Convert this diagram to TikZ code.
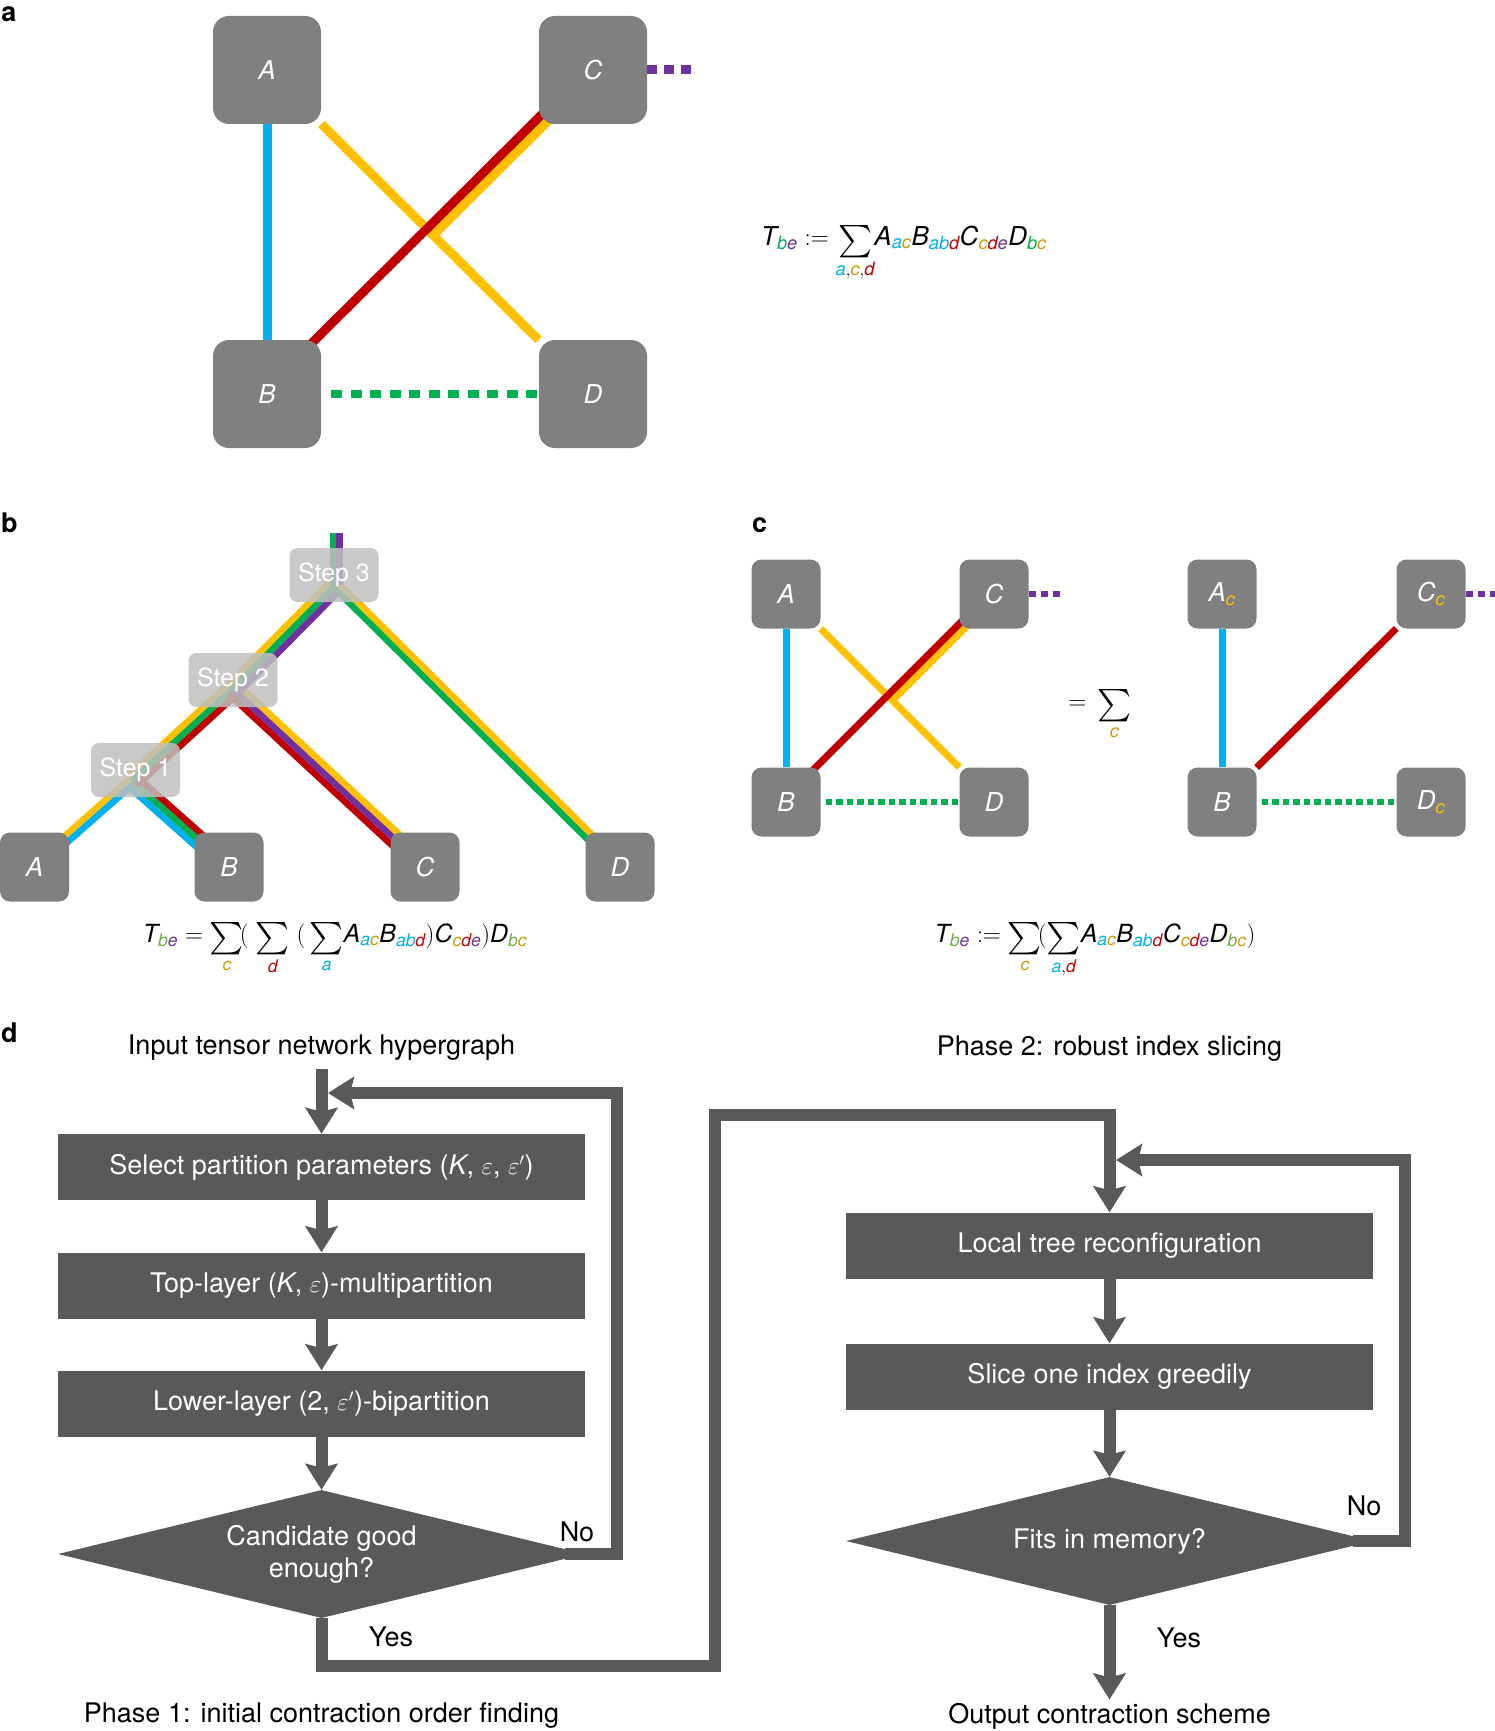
\documentclass[tikz,border=0pt]{standalone}
\usepackage{amsmath}
\usepackage{fontspec}
\setmainfont{TeX Gyre Heros}
\usetikzlibrary{shapes.geometric,arrows.meta,calc}

\definecolor{nodegray}{HTML}{808080}
\definecolor{flowgray}{HTML}{595959}
\definecolor{stepgray}{HTML}{BFBFBF}
\definecolor{idxa}{HTML}{00B0F0}
\definecolor{idxb}{HTML}{00B050}
\definecolor{idxc}{HTML}{FFC000}
\definecolor{idxd}{HTML}{C00000}
\definecolor{idxe}{HTML}{7030A0}
\definecolor{txtb}{HTML}{70AD47}
\definecolor{txtc}{HTML}{CC9A06}

\newcommand{\ixa}{\textcolor{idxa}{\mathit{a}}}
\newcommand{\ixb}{\textcolor{idxb}{\mathit{b}}}
\newcommand{\ixg}{\textcolor{txtb}{\mathit{b}}}
\newcommand{\ixba}{\textcolor{idxa}{\mathit{b}}}
\newcommand{\ixc}{\textcolor{txtc}{\mathit{c}}}
\newcommand{\ixd}{\textcolor{idxd}{\mathit{d}}}
\newcommand{\ixe}{\textcolor{idxe}{\mathit{e}}}
\newcommand{\bsum}{\mathop{\raisebox{-0.2em}{\scalebox{1.3}{$\textstyle\sum$}}}\limits}
\newcommand{\bundle}[3]{\foreach \col/\off in {#3}{\draw[stripe,draw=\col] ($(#1)!\off!-90:(#2)$) -- ($(#2)!\off!90:(#1)$);}}

\pgfdeclarelayer{back}
\pgfsetlayers{back,main}

\tikzset{every picture/.style={line width=0.75pt},
  tensor/.style={fill=nodegray, text=white, rounded corners=16pt, minimum size=108pt, inner sep=0pt, font=\fontsize{26}{30}\selectfont\itshape},
  tensorsm/.style={tensor, rounded corners=10pt, minimum size=69pt},
  stepbox/.style={fill=stepgray, fill opacity=0.85, text opacity=1, text=white, rounded corners=8pt, minimum width=89pt, minimum height=54pt, inner sep=0pt, font=\fontsize{25}{30}\selectfont},
  flowbox/.style={fill=flowgray, text=white, minimum width=527pt, minimum height=66pt, inner sep=0pt, font=\fontsize{27}{32}\selectfont},
  flowdec/.style={diamond, fill=flowgray, text=white, minimum width=527pt, minimum height=128pt, inner sep=0pt, aspect=4, align=center, font=\fontsize{27}{32}\selectfont},
  flowtext/.style={font=\fontsize{27}{32}\selectfont},
  flowline/.style={draw=flowgray, line width=12pt},
  flowarrow/.style={flowline, -{Stealth[length=26pt,width=32pt,inset=4pt]}},
  panel/.style={anchor=base west, inner sep=0pt, font=\fontsize{27}{30}\selectfont\bfseries},
  formula/.style={anchor=base, inner sep=0pt, font=\fontsize{26}{30}\selectfont},
  bond/.style={line width=9pt},
  bondsm/.style={line width=7pt},
  stripe/.style={line width=6.5pt}
}

\begin{document}
\begin{tikzpicture}[x=1pt,y=1pt,yscale=-1,xscale=1]
	\useasboundingbox (0,0) rectangle (1495,1731);

	%%% Panel a
	% Text Node
	\node[panel] (la) at (1,22) {a};
	%Shape: Tensors
	\node[tensor] (aA) at (267,70) {A};
	\node[tensor] (aC) at (593,70) {C};
	\node[tensor] (aB) at (267,394) {B};
	\node[tensor] (aD) at (593,394) {D};
	\coordinate (ae) at (693,70);
	\coordinate (ac2) at ($(aC)!4.5pt!-90:(aB)$);
	\coordinate (ab2) at ($(aB)!4.5pt!90:(aC)$);
	\coordinate (ax) at (intersection of aA--aD and ac2--ab2);
	\begin{pgfonlayer}{back}
	%Straight Lines
	\draw[bond,idxa] (aA) -- (aB);
	\draw[bond,idxc] (aA) -- (aD);
	\draw[bond,idxc] (ac2) -- (ax);
	\draw[bond,idxd] ($(aC)!-4.5pt!-90:(aB)$) -- ($(aB)!-4.5pt!90:(aC)$);
	%Dotted Lines
	\draw[bond,idxe,dash pattern=on 10pt off 7pt] (aC.east) -- (ae);
	\draw[line width=8pt,idxb,dash pattern=on 11pt off 8.5pt] ([xshift=10pt]aB.east) -- (aD.west);
	\end{pgfonlayer}
	% Text Node
	\node[formula] (fa) at (904,245) {$\mathit{T}_{\ixb\ixe}\mathrel{\mathrm{:=}}\bsum_{\ixa,\ixc,\ixd}\!\mathit{A}_{\ixa\ixc}\mathit{B}_{\ixa\ixba\ixd}\mathit{C}_{\ixc\ixd\ixe}\mathit{D}_{\ixb\ixc}$};

	%%% Panel b
	% Text Node
	\node[panel] (lb) at (1,532) {b};
	%Shape: Tensors
	\node[tensorsm] (bA) at (34.5,867) {A};
	\node[tensorsm] (bB) at (229,867) {B};
	\node[tensorsm] (bC) at (425,867) {C};
	\node[tensorsm] (bD) at (620,867) {D};
	\coordinate (j1) at (132,781);
	\coordinate (j2) at (233,689);
	\coordinate (j3) at (336,585);
	\coordinate (jt) at (336,533);
	\begin{pgfonlayer}{back}
	%Striped Lines
	\bundle{j1}{bA}{idxc/-3.25pt, idxa/3.25pt}
	\bundle{j1}{bB}{idxa/-6.5pt, idxb/0pt, idxd/6.5pt}
	\bundle{j1}{j2}{idxc/6.5pt, idxb/0pt, idxd/-6.5pt}
	\bundle{j2}{bC}{idxd/-6.5pt, idxe/0pt, idxc/6.5pt}
	\bundle{j2}{j3}{idxc/6.5pt, idxb/0pt, idxe/-6.5pt}
	\bundle{j3}{bD}{idxb/-3.25pt, idxc/3.25pt}
	\bundle{j3}{jt}{idxb/3.25pt, idxe/-3.25pt}
	\end{pgfonlayer}
	%Shape: Steps
	\node[stepbox] (s1) at (135.5,770) {Step 1};
	\node[stepbox] (s2) at (233,680) {Step 2};
	\node[stepbox] (s3) at (334,575) {Step 3};
	% Text Node
	\node[formula,font=\fontsize{25}{28}\selectfont] (fb) at (335,942) {$\mathit{T}_{\ixg\ixe}\mathrel{\mathrm{=}}\bsum_{\ixc}\!(\;\bsum_{\ixd}\;(\,\bsum_{\ixa}\!\mathit{A}_{\ixa\ixc}\mathit{B}_{\ixa\ixba\ixd})\mathit{C}_{\ixc\ixd\ixe})\mathit{D}_{\ixg\ixc}$};

	%%% Panel c
	% Text Node
	\node[panel] (lc) at (752,532) {c};
	%Shape: Tensors
	\node[tensorsm] (cA) at (786,594) {A};
	\node[tensorsm] (cC) at (994,594) {C};
	\node[tensorsm] (cB) at (786,802) {B};
	\node[tensorsm] (cD) at (994,802) {D};
	\node[tensorsm] (cAc) at (1222,594) {A\textsubscript{\textcolor{idxc}{c}}};
	\node[tensorsm] (cCc) at (1431,594) {C\textsubscript{\textcolor{idxc}{c}}};
	\node[tensorsm] (cBc) at (1222,802) {B};
	\node[tensorsm] (cDc) at (1431,802) {D\textsubscript{\textcolor{idxc}{c}}};
	\coordinate (ce) at (1064,594);
	\coordinate (cce) at (1500,594);
	\coordinate (cc2) at ($(cC)!3.5pt!-90:(cB)$);
	\coordinate (cb2) at ($(cB)!3.5pt!90:(cC)$);
	\coordinate (cx) at (intersection of cA--cD and cc2--cb2);
	\begin{pgfonlayer}{back}
	%Straight Lines
	\draw[bondsm,idxa] (cA) -- (cB);
	\draw[bondsm,idxc] (cA) -- (cD);
	\draw[bondsm,idxc] (cc2) -- (cx);
	\draw[bondsm,idxd] ($(cC)!-3.5pt!-90:(cB)$) -- ($(cB)!-3.5pt!90:(cC)$);
	\draw[bondsm,idxa] (cAc) -- (cBc);
	\draw[bondsm,idxd] (cCc) -- (cBc);
	%Dotted Lines
	\draw[line width=6.5pt,idxe,dash pattern=on 7pt off 5pt] (cC.east) -- (ce);
	\draw[line width=6.5pt,idxe,dash pattern=on 7pt off 5pt] (cCc.east) -- (cce);
	\draw[line width=6pt,idxb,dash pattern=on 6.5pt off 4pt] ([xshift=5pt]cB.east) -- (cD.west);
	\draw[line width=6pt,idxb,dash pattern=on 6.5pt off 4pt] ([xshift=5pt]cBc.east) -- (cDc.west);
	\end{pgfonlayer}
	% Text Node
	\node[formula] (fs) at (1100,709) {$\mathrm{=}\;\bsum_{\ixc}$};
	% Text Node
	\node[formula,font=\fontsize{25}{28}\selectfont] (fc) at (1095,942) {$\mathit{T}_{\ixg\ixe}\mathrel{\mathrm{:=}}\bsum_{\ixc}\!(\bsum_{\ixa,\ixd}\!\mathit{A}_{\ixa\ixc}\mathit{B}_{\ixa\ixba\ixd}\mathit{C}_{\ixc\ixd\ixe}\mathit{D}_{\ixg\ixc})$};

	%%% Panel d
	% Text Node
	\node[panel] (ld) at (1,1042) {d};
	% Text Nodes
	\node[flowtext] (inp) at (321.5,1048) {Input tensor network hypergraph};
	\node[flowtext] (ph1) at (321.5,1716) {Phase 1: initial contraction order finding};
	\node[flowtext] (ph2) at (1109.5,1049) {Phase 2: robust index slicing};
	\node[flowtext] (outp) at (1109.5,1716) {Output contraction scheme};
	\node[flowtext] (no1) at (577,1532) {No};
	\node[flowtext] (yes1) at (391,1637) {Yes};
	\node[flowtext] (no2) at (1364,1506) {No};
	\node[flowtext] (yes2) at (1179,1638) {Yes};
	%Shape: Boxes
	\node[flowbox] (sel) at (321.5,1167) {Select partition parameters (\textit{K}, $\varepsilon$, $\varepsilon'$)};
	\node[flowbox] (top) at (321.5,1285.5) {Top-layer (\textit{K}, $\varepsilon$)-multipartition};
	\node[flowbox] (low) at (321.5,1403.5) {Lower-layer (2, $\varepsilon'$)-bipartition};
	\node[flowdec] (cand) at (321.5,1554) {Candidate good\\enough?};
	\node[flowbox] (loc) at (1109.5,1245.5) {Local tree reconfiguration};
	\node[flowbox] (slc) at (1109.5,1376.5) {Slice one index greedily};
	\node[flowdec] (fit) at (1109.5,1541) {Fits in memory?};
	\coordinate (n1a) at (617,1093);
	\coordinate (n1b) at (328,1093);
	\coordinate (ya) at (715,1666);
	\coordinate (yb) at (715,1115);
	\coordinate (n2a) at (1405,1160);
	\coordinate (n2b) at (1116,1160);
	%Arrows
	\draw[flowarrow,shorten <=5pt] (inp) -- (sel);
	\draw[flowarrow] (sel) -- (top);
	\draw[flowarrow] (top) -- (low);
	\draw[flowarrow] (low) -- (cand);
	\draw[flowarrow] ([xshift=-20pt]cand.east) -| (n1a) -- (n1b);
	\draw[flowarrow] (cand.south) |- (ya) -- (yb) -| (loc.north);
	\draw[flowarrow] (loc) -- (slc);
	\draw[flowarrow] (slc) -- (fit);
	\draw[flowarrow] ([xshift=-20pt]fit.east) -| (n2a) -- (n2b);
	\draw[flowarrow] (fit.south) -- (outp.north);

\end{tikzpicture}
\end{document}
